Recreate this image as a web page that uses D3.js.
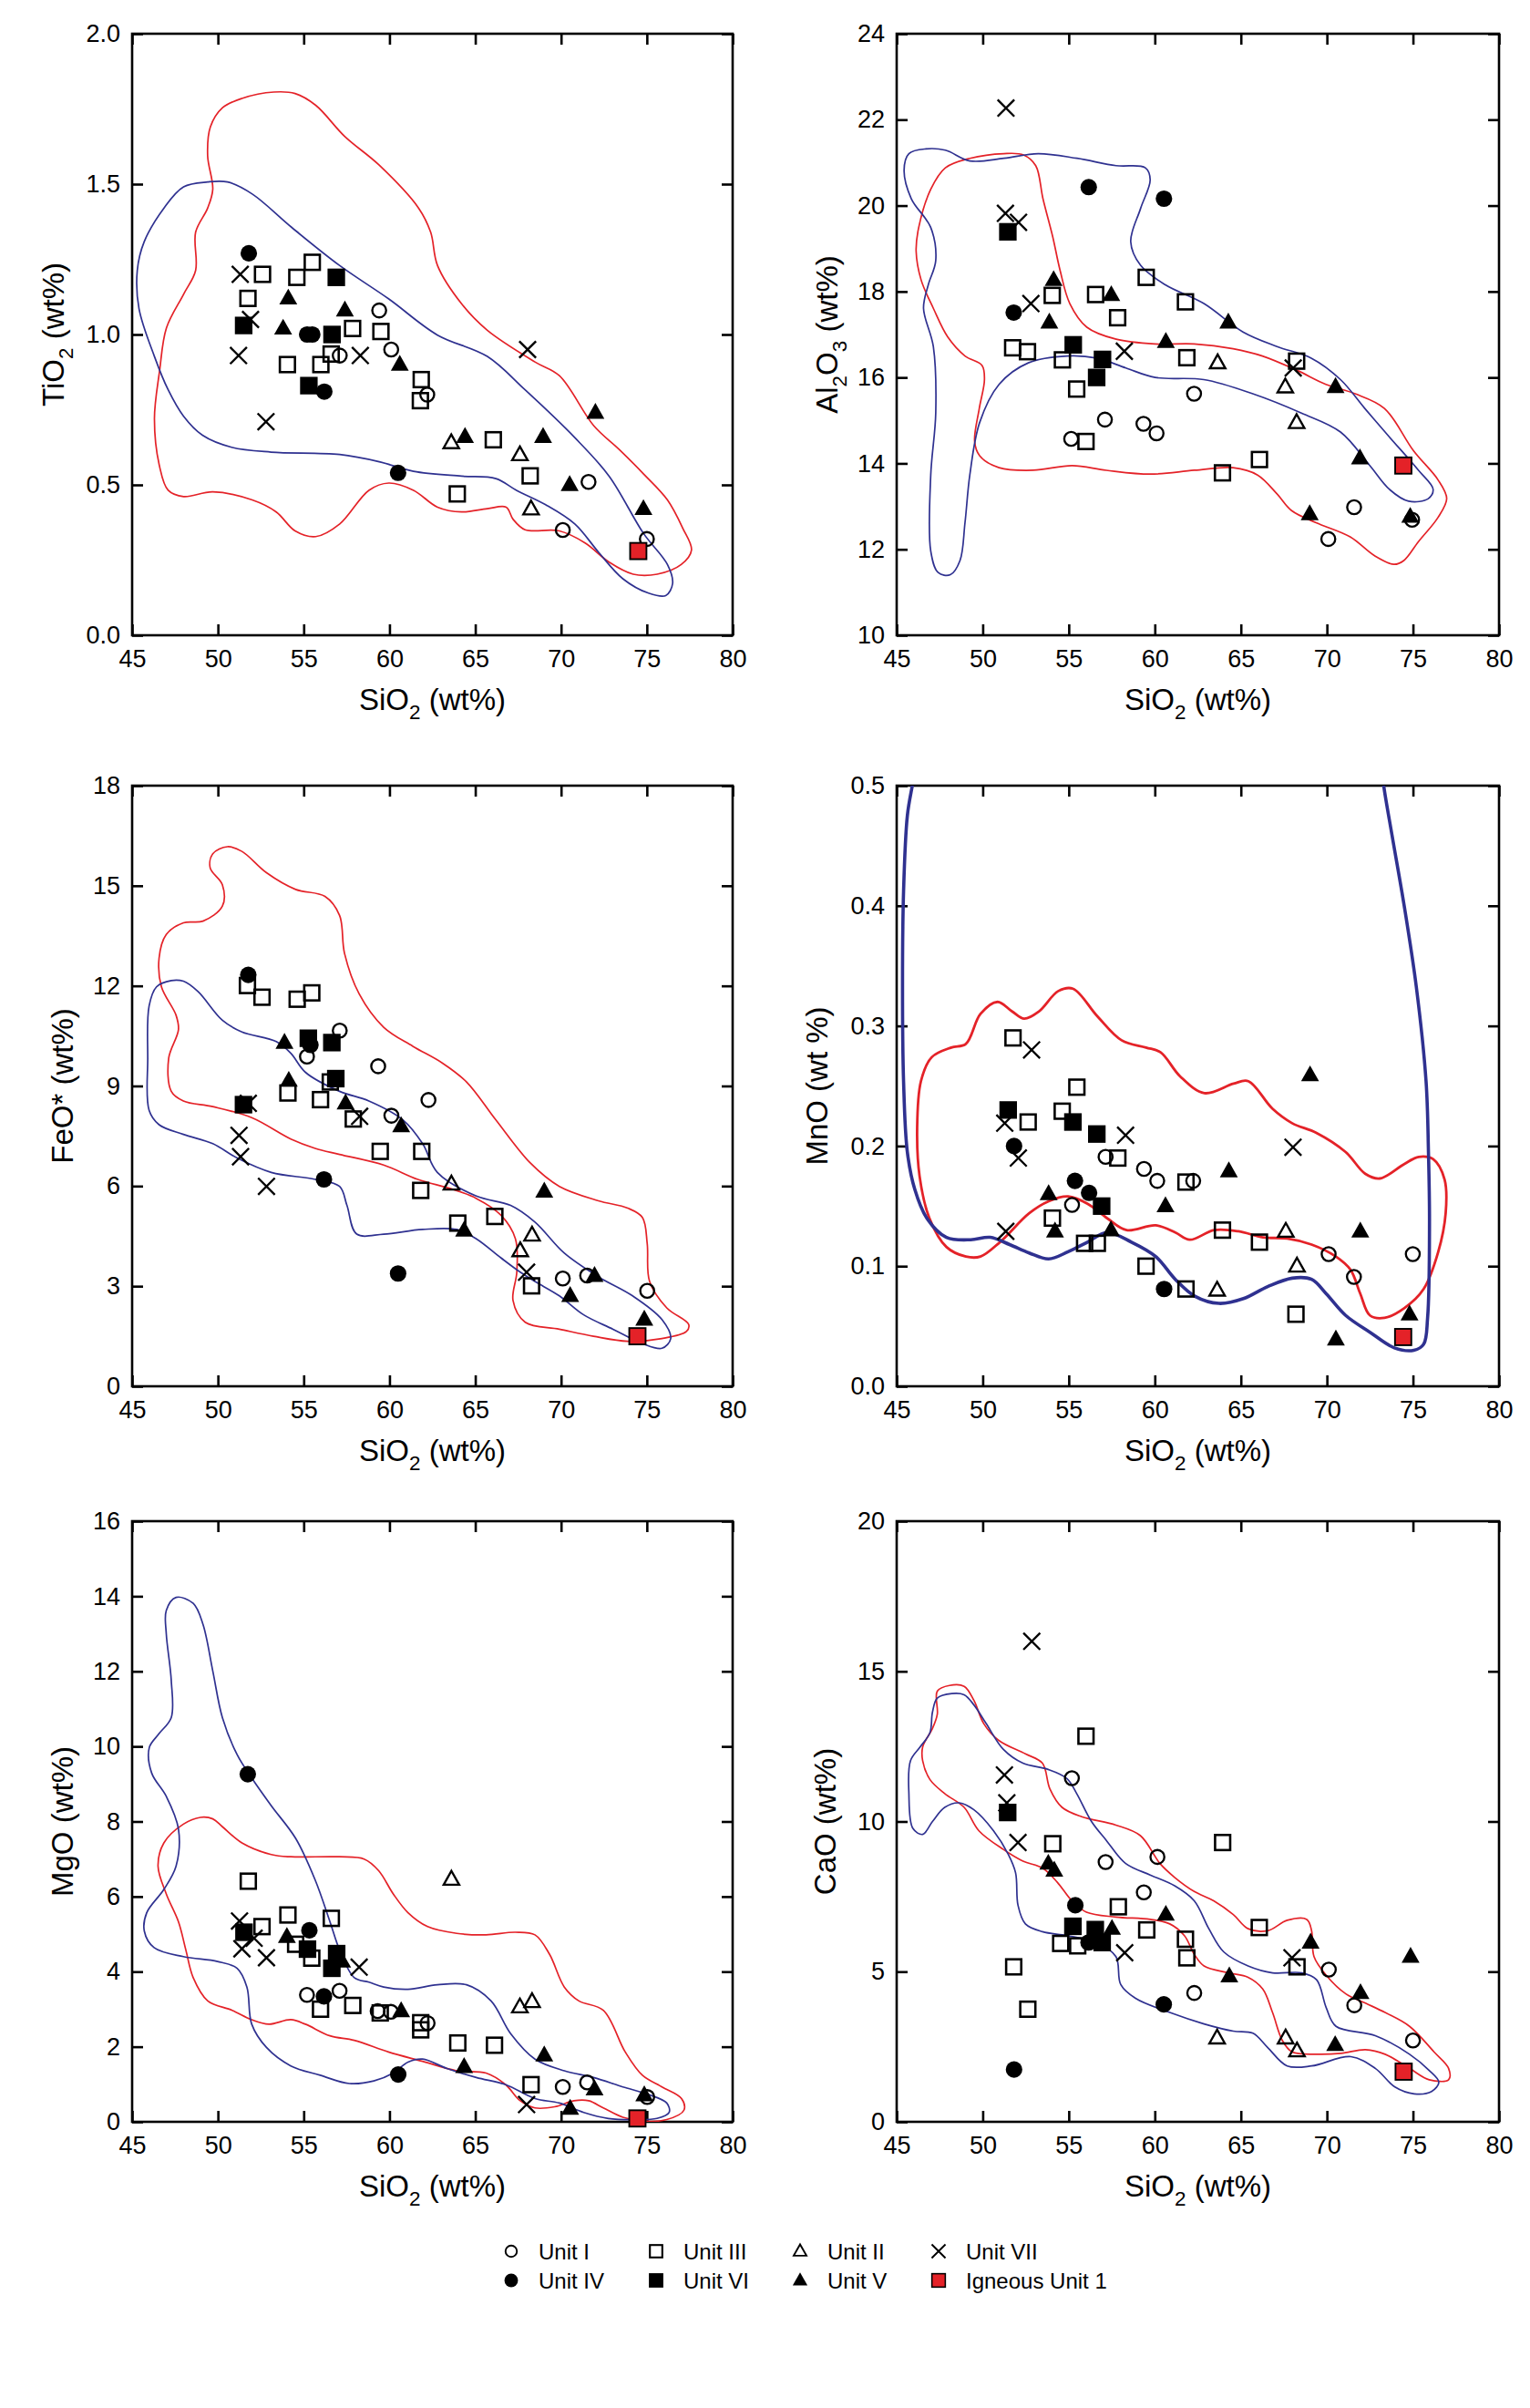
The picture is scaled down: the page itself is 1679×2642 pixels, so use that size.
<!DOCTYPE html>
<html>
<head>
<meta charset="utf-8">
<script src="https://cdn.jsdelivr.net/npm/d3@7"></script>
<style>
  body { margin: 0; background: #fff; }
  text { font-family: "Liberation Sans", Arial, Helvetica, sans-serif; }
</style>
</head>
<body>
<svg id="chart" width="1679" height="2642"></svg>
<script>
// ---- shared axis values ----
var xTicks = [45, 50, 55, 60, 65, 70, 75, 80];
var unitCodes = ["I", "IV", "III", "VI", "II", "V", "VII", "IG"];
var unitLabels = ["Unit I", "Unit IV", "Unit III", "Unit VI", "Unit II", "Unit V", "Unit VII", "Igneous Unit 1"];

// ---- TiO2 ----
var tio2Ticks = [0, 0.5, 1.0, 1.5, 2.0];
var tio2Points = [
  ["I",59.4,1.08],["I",60.1,0.95],["I",57.1,0.93],["I",62.2,0.80],["I",71.6,0.51],["I",70.1,0.35],["I",75.0,0.32],
  ["IV",51.8,1.27],["IV",55.2,1.0],["IV",55.5,1.0],["IV",56.2,0.81],["IV",60.5,0.54],
  ["III",52.6,1.2],["III",51.75,1.12],["III",54.6,1.19],["III",55.5,1.24],["III",57.85,1.02],["III",59.5,1.01],["III",54.05,0.9],
  ["III",56.0,0.9],["III",56.6,0.935],["III",61.85,0.85],["III",61.8,0.78],["III",66.05,0.65],["III",68.2,0.53],["III",63.95,0.47],
  ["VI",56.9,1.19],["VI",51.5,1.03],["VI",56.65,1.0],["VI",55.3,0.83],
  ["II",63.6,0.64],["II",67.6,0.6],["II",68.25,0.42],
  ["V",54.1,1.12],["V",53.8,1.02],["V",57.4,1.08],["V",60.6,0.9],["V",64.4,0.66],["V",68.95,0.66],["V",72.0,0.74],["V",70.5,0.5],["V",74.8,0.42],
  ["VII",51.3,1.2],["VII",51.9,1.05],["VII",51.2,0.93],["VII",52.8,0.71],["VII",58.3,0.93],["VII",68.05,0.95],
  ["IG",74.5,0.28]
];
var tio2Red = [[53.26,1.806],[51.4,1.785],[50.27,1.754],[49.56,1.69],[49.4,1.595],[49.7,1.483],[49.4,1.42],[48.7,1.34],[48.7,1.213],
  [48.0,1.134],[47.0,1.022],[46.6,0.879],[46.3,0.72],[46.6,0.561],[47.1,0.482],[48.0,0.461],[49.7,0.477],[52.0,0.45],[53.4,0.41],
  [54.5,0.347],[55.7,0.328],[57.1,0.37],[58.8,0.482],[59.96,0.506],[61.4,0.482],[62.8,0.426],[64.2,0.41],[65.7,0.421],[66.8,0.426],
  [67.2,0.386],[67.9,0.351],[69.9,0.347],[71.4,0.307],[72.8,0.243],[74.2,0.203],[75.6,0.203],[77.0,0.235],[77.6,0.283],[77.1,0.355],
  [76.2,0.45],[74.8,0.537],[73.4,0.617],[71.9,0.697],[69.9,0.863],[68.5,0.908],[65.7,1.014],[64.2,1.102],[62.8,1.229],[62.4,1.34],
  [61.7,1.42],[59.4,1.563],[57.4,1.658],[55.7,1.762],[54.5,1.801]];
var tio2Blue = [[49.4,1.507],[48.0,1.491],[46.85,1.42],[45.7,1.308],[45.3,1.213],[45.4,1.086],[46.3,0.927],[47.1,0.816],[48.0,0.728],
  [49.1,0.665],[50.8,0.625],[53.1,0.609],[57.1,0.601],[59.4,0.577],[61.4,0.545],[64.2,0.529],[66.2,0.521],[67.4,0.482],[69.1,0.434],
  [70.8,0.37],[72.2,0.275],[73.6,0.188],[75.1,0.14],[76.1,0.132],[76.5,0.172],[76.2,0.235],[74.8,0.339],[72.8,0.529],[70.8,0.657],
  [67.9,0.816],[65.7,0.927],[62.8,0.998],[59.96,1.118],[57.1,1.229],[54.3,1.356],[52.0,1.467],[50.56,1.507]];

// ---- Al2O3 ----
var al2o3Ticks = [10, 12, 14, 16, 18, 20, 22, 24];
var al2o3Points = [
  ["I",55.14,14.57],["I",57.1,15.02],["I",59.34,14.92],["I",60.1,14.7],["I",62.28,15.62],["I",71.58,12.98],["I",70.08,12.24],["I",74.95,12.69],
  ["IV",56.16,20.43],["IV",60.53,20.16],["IV",51.8,17.51],
  ["III",51.74,16.69],["III",52.6,16.6],["III",54.04,17.91],["III",54.63,16.41],["III",55.46,15.73],["III",56.0,14.51],["III",56.56,17.93],
  ["III",57.84,17.39],["III",59.5,18.33],["III",61.78,17.76],["III",61.86,16.46],["III",63.93,13.78],["III",66.08,14.09],["III",68.24,16.38],
  ["VI",51.46,19.39],["VI",55.26,16.76],["VI",56.96,16.42],["VI",56.62,16.0],
  ["II",63.65,16.34],["II",67.58,15.78],["II",68.24,14.95],
  ["V",54.12,18.27],["V",53.87,17.28],["V",57.47,17.92],["V",60.64,16.83],["V",64.27,17.28],["V",70.5,15.78],["V",71.92,14.12],["V",69.0,12.82],["V",74.84,12.76],
  ["VII",51.35,22.27],["VII",51.32,19.82],["VII",52.08,19.61],["VII",52.8,17.72],["VII",58.23,16.61],["VII",68.04,16.22],
  ["IG",74.44,13.95]
];
var al2o3Red = [[51.23,21.21],[49.25,21.1],[47.83,20.88],[46.98,20.38],[46.28,19.49],[46.13,18.94],[46.42,18.27],[47.13,17.61],[47.97,16.94],
  [48.97,16.5],[49.96,16.28],[50.1,15.95],[49.8,15.28],[49.53,14.51],[49.82,14.18],[50.95,13.9],[52.93,13.84],[55.2,13.95],[57.18,13.84],
  [59.73,13.75],[62.29,13.84],[64.55,13.9],[65.97,13.73],[67.1,13.29],[67.95,12.9],[69.37,12.62],[71.35,12.29],[72.77,11.85],[73.9,11.65],
  [74.47,11.74],[75.32,12.18],[76.45,12.74],[76.96,13.18],[76.45,13.62],[75.04,14.29],[73.34,15.28],[71.64,15.62],[69.94,15.84],[68.24,16.17],
  [66.25,16.5],[64.55,16.67],[62.28,16.78],[60.02,16.78],[57.75,16.89],[56.05,17.17],[55.06,17.72],[54.49,18.5],[54.07,19.27],[53.5,20.16],
  [53.08,20.93],[52.37,21.18]];
var al2o3Blue = [[46.7,21.32],[45.71,21.21],[45.43,20.82],[45.85,20.16],[46.98,19.49],[47.27,18.72],[46.84,18.16],[46.56,17.61],[47.13,16.72],
  [47.27,15.17],[46.98,13.73],[46.98,11.96],[47.41,11.46],[48.12,11.41],[48.68,11.74],[48.97,12.62],[49.25,13.73],[49.82,14.95],[50.95,15.84],
  [52.65,16.34],[54.92,16.5],[56.62,16.45],[58.32,16.22],[60.02,16.0],[62.85,15.95],[65.69,15.62],[68.52,15.17],[70.79,14.73],[72.49,13.95],
  [73.62,13.4],[74.75,13.12],[75.89,13.18],[76.17,13.4],[75.32,13.84],[73.62,14.62],[72.2,15.28],[70.79,15.95],[69.09,16.45],[67.1,16.72],
  [65.12,17.06],[62.85,17.72],[60.59,18.16],[59.17,18.61],[58.6,19.16],[59.17,19.93],[59.73,20.6],[59.45,20.88],[57.75,20.93],[55.48,21.1],
  [53.22,21.21],[51.23,21.1],[49.25,21.04],[47.83,21.29]];

// ---- FeO* ----
var feoTicks = [0, 3, 6, 9, 12, 15, 18];
var feoPoints = [
  ["I",55.19,9.88],["I",57.1,10.66],["I",59.34,9.59],["I",60.11,8.11],["I",62.27,8.58],["I",70.1,3.23],["I",71.52,3.32],["I",75.02,2.86],
  ["IV",51.77,12.33],["IV",55.39,10.23],["IV",56.18,6.2],["IV",60.5,3.38],
  ["III",51.72,12.01],["III",52.57,11.66],["III",54.62,11.6],["III",55.47,11.79],["III",54.08,8.79],["III",55.98,8.59],["III",56.55,9.12],
  ["III",57.89,8.01],["III",59.46,7.04],["III",61.88,7.04],["III",61.82,5.87],["III",63.98,4.89],["III",66.14,5.09],["III",68.28,3.01],
  ["VI",51.49,8.44],["VI",55.27,10.43],["VI",56.64,10.3],["VI",56.87,9.22],
  ["II",63.61,6.06],["II",67.62,4.06],["II",68.31,4.53],
  ["V",53.88,10.3],["V",54.13,9.16],["V",57.44,8.48],["V",60.68,7.8],["V",64.35,4.67],["V",69.02,5.84],["V",71.95,3.31],["V",70.53,2.71],["V",74.85,2.0],
  ["VII",51.77,8.48],["VII",51.23,7.52],["VII",51.32,6.88],["VII",52.83,5.99],["VII",58.26,8.09],["VII",67.99,3.42],
  ["IG",74.45,1.5]
];
var feoRed = [[50.55,16.17],[49.7,15.96],[49.55,15.53],[50.26,15.03],[50.26,14.39],[49.13,13.94],[47.99,13.89],[46.99,13.54],[46.57,12.83],
  [46.71,11.97],[47.56,11.12],[47.7,10.69],[47.13,9.83],[47.28,8.84],[47.99,8.55],[49.7,8.38],[51.97,8.05],[54.25,7.41],[55.67,7.13],
  [57.09,6.95],[59.66,6.63],[61.65,6.2],[63.64,5.91],[65.06,5.63],[66.49,5.13],[67.34,4.42],[67.42,3.42],[67.2,2.57],[67.91,1.92],
  [69.9,1.71],[71.89,1.5],[73.88,1.35],[75.88,1.43],[77.3,1.64],[77.44,1.85],[76.16,2.35],[75.16,3.14],[75.02,4.28],[74.74,5.06],
  [73.88,5.34],[72.18,5.56],[69.9,5.99],[68.19,6.7],[66.2,7.98],[64.49,9.12],[63.07,9.69],[61.36,10.19],[59.66,10.76],[58.23,11.76],
  [57.38,12.97],[57.09,14.11],[56.24,14.68],[54.53,14.89],[52.83,15.39],[51.4,16.03]];
var feoBlue = [[47.28,12.16],[46.42,11.97],[45.99,11.4],[45.91,9.83],[45.99,8.27],[46.57,7.84],[47.99,7.55],[49.7,7.27],[51.12,6.84],
  [53.11,6.41],[55.67,6.2],[57.09,5.99],[57.52,5.42],[58.09,4.56],[59.66,4.56],[61.93,4.7],[63.92,4.7],[65.06,4.42],[66.49,3.85],
  [67.62,3.42],[68.48,3.14],[69.9,2.71],[71.32,2.14],[73.03,1.71],[74.74,1.28],[75.88,1.14],[76.39,1.43],[75.88,2.0],[74.17,2.71],
  [72.18,3.28],[70.19,3.99],[68.48,4.92],[67.06,5.42],[65.06,5.7],[62.79,6.41],[61.93,7.27],[60.79,7.98],[58.8,8.55],[57.09,8.84],
  [55.1,9.41],[54.25,9.98],[53.4,10.33],[51.4,10.62],[50.26,10.97],[48.84,11.83],[47.99,12.14]];

// ---- MnO ----
var mnoTicks = [0, 0.1, 0.2, 0.3, 0.4, 0.5];
var mnoPoints = [
  ["I",55.19,0.151],["I",57.14,0.191],["I",59.37,0.181],["I",60.14,0.171],["I",62.23,0.171],["I",70.1,0.11],["I",71.57,0.091],["I",74.99,0.11],
  ["IV",51.82,0.2],["IV",55.36,0.171],["IV",56.18,0.161],["IV",60.54,0.081],
  ["III",51.76,0.29],["III",52.64,0.22],["III",55.47,0.249],["III",54.62,0.229],["III",54.05,0.14],["III",55.92,0.119],["III",56.66,0.119],
  ["III",57.85,0.19],["III",59.49,0.1],["III",61.81,0.17],["III",61.81,0.081],["III",63.93,0.13],["III",66.08,0.12],["III",68.2,0.06],
  ["VI",51.48,0.23],["VI",55.24,0.22],["VI",56.63,0.21],["VI",56.91,0.15],
  ["II",63.62,0.08],["II",67.61,0.129],["II",68.26,0.1],
  ["V",53.83,0.16],["V",54.2,0.129],["V",57.45,0.13],["V",60.62,0.15],["V",64.3,0.179],["V",69.02,0.259],["V",71.94,0.129],["V",70.52,0.039],["V",74.8,0.06],
  ["VII",52.84,0.28],["VII",51.28,0.219],["VII",52.07,0.19],["VII",51.34,0.129],["VII",58.3,0.209],["VII",68.03,0.199],
  ["IG",74.43,0.041]
];
var mnoRed = [[50.86,0.32],[49.87,0.31],[49.02,0.285],[48.17,0.282],[47.04,0.274],[46.41,0.254],[46.19,0.215],[46.33,0.175],[46.9,0.14],
  [47.89,0.116],[49.02,0.108],[49.87,0.108],[51.0,0.12],[52.7,0.144],[53.83,0.154],[54.96,0.158],[56.09,0.152],[57.22,0.14],[58.36,0.13],
  [60.05,0.134],[61.19,0.128],[62.03,0.122],[63.45,0.13],[64.86,0.129],[66.28,0.124],[67.69,0.123],[69.11,0.118],[70.52,0.108],[71.37,0.097],
  [71.94,0.077],[72.5,0.059],[73.35,0.057],[74.49,0.065],[75.62,0.081],[76.47,0.112],[76.9,0.144],[76.84,0.172],[76.18,0.189],[75.33,0.191],
  [74.49,0.185],[73.07,0.173],[72.22,0.177],[71.09,0.195],[69.39,0.211],[67.98,0.219],[66.84,0.231],[65.43,0.254],[64.58,0.252],[62.88,0.244],
  [61.47,0.258],[60.34,0.278],[59.49,0.282],[58.07,0.288],[56.66,0.308],[55.24,0.331],[54.39,0.329],[53.26,0.312],[52.41,0.306],[51.71,0.312]];
var mnoBlue = [[46.5,0.56],[46.19,0.52],[45.91,0.5],[45.62,0.475],[45.4,0.412],[45.34,0.333],[45.4,0.254],[45.62,0.195],[46.05,0.164],
  [46.75,0.14],[47.89,0.124],[49.3,0.122],[50.43,0.124],[51.56,0.118],[52.7,0.111],[53.83,0.106],[54.96,0.112],[56.09,0.12],[57.22,0.128],
  [58.64,0.12],[60.05,0.108],[61.19,0.089],[62.32,0.075],[63.73,0.069],[65.15,0.073],[66.56,0.083],[67.98,0.09],[69.11,0.089],[69.96,0.077],
  [71.09,0.059],[72.5,0.045],[73.92,0.032],[75.05,0.03],[75.62,0.035],[75.85,0.057],[75.96,0.136],[75.9,0.195],[75.76,0.254],[75.19,0.333],
  [74.49,0.4],[73.78,0.459],[73.3,0.5],[73.15,0.52],[73.0,0.56],[60.0,0.6]];

// ---- MgO ----
var mgoTicks = [0, 2, 4, 6, 8, 10, 12, 14, 16];
var mgoPoints = [
  ["I",55.19,3.38],["I",57.09,3.49],["I",59.31,2.95],["I",60.08,2.93],["I",62.22,2.63],["I",70.1,0.93],["I",71.52,1.05],["I",75.02,0.66],
  ["IV",51.74,9.26],["IV",55.33,5.1],["IV",56.18,3.34],["IV",60.51,1.26],
  ["III",51.77,6.41],["III",52.57,5.2],["III",54.08,5.51],["III",54.53,4.73],["III",55.47,4.36],["III",56.61,5.42],["III",55.98,3.0],
  ["III",57.86,3.1],["III",59.46,2.9],["III",61.82,2.64],["III",61.82,2.45],["III",63.98,2.1],["III",66.12,2.04],["III",68.25,0.99],
  ["VI",51.52,5.05],["VI",55.22,4.6],["VI",56.92,4.48],["VI",56.64,4.09],
  ["II",63.61,6.46],["II",67.6,3.06],["II",68.31,3.2],
  ["V",54.02,4.93],["V",57.24,4.27],["V",60.68,2.95],["V",64.35,1.46],["V",69.02,1.77],["V",71.95,0.87],["V",70.53,0.35],["V",74.85,0.71],
  ["VII",51.26,5.35],["VII",51.4,4.61],["VII",52.11,4.89],["VII",52.83,4.37],["VII",58.23,4.12],["VII",67.99,0.46],
  ["IG",74.45,0.09]
];
var mgoRed = [[48.98,8.11],[47.99,7.93],[46.85,7.43],[46.51,6.81],[46.99,6.07],[47.7,5.33],[48.13,4.58],[48.56,3.84],[49.41,3.22],
  [50.83,2.97],[51.97,2.72],[52.97,2.6],[54.25,2.72],[55.1,2.6],[56.53,2.29],[57.95,2.17],[59.94,1.86],[61.93,1.61],[63.92,1.36],
  [65.63,1.3],[66.77,0.99],[67.62,0.56],[68.48,0.37],[69.62,0.4],[70.75,0.56],[71.61,0.56],[72.46,0.37],[73.6,0.12],[74.74,0.02],
  [76.16,0.06],[77.16,0.31],[77.02,0.62],[75.88,0.93],[74.74,1.24],[73.74,1.86],[72.46,2.97],[71.04,3.22],[70.19,3.59],[69.33,4.46],
  [68.48,4.98],[67.34,5.05],[65.63,4.98],[63.92,5.02],[62.22,5.2],[61.08,5.57],[60.22,6.07],[59.37,6.69],[58.52,7.0],[57.09,7.06],
  [54.25,7.06],[53.11,7.12],[51.4,7.43],[50.26,7.86],[49.7,8.07]];
var mgoBlue = [[47.56,13.97],[46.99,13.62],[46.99,13.0],[47.28,11.76],[47.28,10.77],[46.57,10.34],[46.0,9.97],[46.14,9.29],[46.99,8.67],
  [47.7,7.8],[47.56,6.81],[46.85,6.19],[45.85,5.57],[45.71,5.08],[46.28,4.64],[47.99,4.4],[49.98,4.27],[51.12,4.09],[51.69,3.59],
  [51.97,2.6],[52.83,1.98],[54.25,1.49],[55.96,1.24],[57.66,1.02],[59.09,1.09],[60.22,1.3],[61.08,1.59],[61.93,1.67],[63.35,1.42],
  [65.06,1.18],[66.77,0.99],[68.48,0.62],[69.9,0.5],[71.32,0.25],[72.75,0.09],[74.17,0.06],[75.59,0.09],[76.3,0.25],[76.16,0.5],
  [75.02,0.74],[73.6,0.93],[71.89,1.18],[70.19,1.36],[68.48,1.67],[67.06,2.35],[65.92,3.22],[64.49,3.65],[62.79,3.65],[61.08,3.53],
  [59.66,3.59],[58.8,3.72],[57.95,3.84],[57.09,4.58],[56.53,5.33],[55.67,6.44],[54.53,7.55],[53.11,8.42],[51.97,9.16],[51.12,9.78],
  [50.26,10.77],[49.7,12.01],[49.13,13.25],[48.56,13.81]];

// ---- CaO ----
var caoTicks = [0, 5, 10, 15, 20];
var caoPoints = [
  ["I",55.18,11.44],["I",57.14,8.65],["I",60.15,8.82],["I",59.36,7.64],["I",62.29,4.29],["I",70.11,5.07],["I",71.59,3.88],["I",75.0,2.71],
  ["IV",55.38,7.21],["IV",56.15,5.97],["IV",60.52,3.91],["IV",51.82,1.74],
  ["III",56.0,12.84],["III",54.07,9.26],["III",51.8,5.16],["III",52.62,3.75],["III",54.53,5.94],["III",55.52,5.86],["III",57.88,7.16],
  ["III",59.53,6.39],["III",61.78,6.08],["III",61.86,5.46],["III",63.94,9.3],["III",66.07,6.47],["III",68.26,5.16],
  ["VI",51.45,10.3],["VI",55.24,6.51],["VI",56.54,6.4],["VI",56.94,5.97],
  ["II",63.62,2.79],["II",67.6,2.79],["II",68.26,2.36],
  ["V",53.81,8.6],["V",54.16,8.37],["V",57.51,6.43],["V",60.64,6.9],["V",64.33,4.85],["V",69.05,5.97],["V",71.95,4.29],["V",70.48,2.56],["V",74.86,5.5],
  ["VII",52.85,16.0],["VII",51.26,11.55],["VII",51.4,10.62],["VII",52.05,9.3],["VII",58.25,5.63],["VII",67.97,5.46],
  ["IG",74.46,1.67]
];
var caoRed = [[48.07,14.53],[47.36,14.34],[47.36,13.57],[47.08,13.1],[46.51,12.48],[46.51,12.02],[46.93,11.4],[47.79,10.93],[48.92,10.47],
  [49.78,9.69],[51.2,9.07],[52.34,8.68],[53.47,8.45],[54.33,7.98],[55.18,7.36],[56.03,6.98],[57.74,6.82],[59.73,6.74],[60.87,6.59],
  [61.72,6.2],[62.29,5.58],[62.86,5.19],[64.28,4.96],[65.42,4.81],[66.27,4.42],[66.84,3.64],[67.41,2.71],[67.97,2.33],[69.4,2.25],
  [70.82,2.28],[72.24,2.4],[73.38,2.25],[74.8,1.78],[75.94,1.4],[77.07,1.4],[77.07,1.78],[76.22,2.33],[74.8,3.18],[73.38,3.64],
  [72.24,3.95],[71.1,4.26],[69.96,4.88],[69.25,5.5],[69.11,6.36],[68.83,6.74],[67.69,6.71],[66.55,6.36],[65.42,6.43],[64.56,6.9],
  [63.42,7.36],[62.29,7.67],[61.15,8.14],[60.3,8.6],[59.16,9.53],[57.74,9.88],[55.75,10.16],[54.61,10.47],[53.9,11.09],[53.47,11.94],
  [52.48,12.25],[50.91,12.71],[50.06,13.26],[49.49,14.03],[48.92,14.5]];
var caoBlue = [[48.21,14.26],[47.36,14.11],[47.08,13.64],[46.93,12.95],[46.36,12.48],[45.8,12.02],[45.71,10.93],[45.94,9.77],[46.51,9.57],
  [47.08,10.0],[47.79,10.47],[48.64,10.62],[49.49,10.39],[50.63,9.69],[51.48,8.91],[51.91,8.29],[52.05,7.21],[52.48,6.59],[53.47,6.33],
  [54.89,6.2],[56.6,5.97],[57.74,5.5],[58.02,4.57],[58.88,4.11],[60.87,3.64],[62.86,3.26],[64.56,3.02],[65.7,2.95],[66.55,2.48],
  [67.69,1.86],[69.11,1.86],[71.39,2.17],[72.81,1.78],[73.95,1.16],[75.08,0.93],[76.08,1.01],[76.5,1.32],[75.94,1.71],[74.8,2.25],
  [72.81,2.87],[70.53,3.18],[69.96,3.8],[69.4,4.73],[68.54,4.96],[66.84,4.96],[65.42,5.19],[64.0,5.66],[63.14,6.43],[62.29,7.36],
  [61.15,7.86],[59.73,8.22],[58.31,8.6],[57.17,9.38],[56.32,10.0],[55.46,10.93],[54.89,11.43],[53.76,11.74],[52.34,11.94],[51.2,12.4],
  [50.2,13.26],[49.49,13.88],[48.92,14.22]];

// ---- axis titles: [text, isSubscript] ----
var xTitle = [["SiO", 0], ["2", 1], [" (wt%)", 0]];
var tio2Title = [["TiO", 0], ["2", 1], [" (wt%)", 0]];
var al2o3Title = [["Al", 0], ["2", 1], ["O", 0], ["3", 1], [" (wt%)", 0]];
var feoTitle = [["FeO* (wt%)", 0]];
var mnoTitle = [["MnO (wt %)", 0]];
var mgoTitle = [["MgO (wt%)", 0]];
var caoTitle = [["CaO (wt%)", 0]];

// ---- layout ----
var RED = "#e42228";
var BLUE = "#2f3190";
var colX = [[145, 804], [984, 1645]];
var rowY = [[37, 697], [862, 1521], [1669, 2328]];
var markerScale = 1.12;

var panels = [
  { pts: tio2Points, red: tio2Red, blue: tio2Blue, dom: [0, 2], ticks: tio2Ticks, fmt: d3.format(".1f"), title: tio2Title, col: 0, row: 0, lw: [1.7, 1.7], tOff: 75 },
  { pts: al2o3Points, red: al2o3Red, blue: al2o3Blue, dom: [10, 24], ticks: al2o3Ticks, fmt: d3.format("d"), title: al2o3Title, col: 1, row: 0, lw: [1.7, 1.7], tOff: 65 },
  { pts: feoPoints, red: feoRed, blue: feoBlue, dom: [0, 18], ticks: feoTicks, fmt: d3.format("d"), title: feoTitle, col: 0, row: 1, lw: [1.7, 1.7], tOff: 65 },
  { pts: mnoPoints, red: mnoRed, blue: mnoBlue, dom: [0, 0.5], ticks: mnoTicks, fmt: d3.format(".1f"), title: mnoTitle, col: 1, row: 1, lw: [2.8, 3.6], tOff: 76 },
  { pts: mgoPoints, red: mgoRed, blue: mgoBlue, dom: [0, 16], ticks: mgoTicks, fmt: d3.format("d"), title: mgoTitle, col: 0, row: 2, lw: [1.7, 1.7], tOff: 65 },
  { pts: caoPoints, red: caoRed, blue: caoBlue, dom: [0, 20], ticks: caoTicks, fmt: d3.format("d"), title: caoTitle, col: 1, row: 2, lw: [1.7, 1.7], tOff: 67 }
];

var svg = d3.select("#chart");
svg.append("rect").attr("width", 1679).attr("height", 2642).attr("fill", "#fff");

// writes parts into a text element, lowering subscripts
function richText(sel, parts, size) {
  var shift = size * 0.3;
  parts.forEach(function(p, i) {
    var ts = sel.append("tspan").text(p[0]);
    if (p[1]) {
      ts.attr("font-size", size * 0.68).attr("dy", shift);
    } else if (i > 0 && parts[i - 1][1]) {
      ts.attr("dy", -shift);
    }
  });
}

function drawMarker(g, unit, cx, cy, k) {
  var m = g.append("g").attr("transform", "translate(" + cx + "," + cy + ") scale(" + (k || 1) + ")");
  if (unit === "I") {
    m.append("circle").attr("r", 6.8).attr("fill", "none").attr("stroke", "#000").attr("stroke-width", 2.1);
  } else if (unit === "IV") {
    m.append("circle").attr("r", 8.1).attr("fill", "#000");
  } else if (unit === "III") {
    m.append("rect").attr("x", -7.4).attr("y", -7.4).attr("width", 14.8).attr("height", 14.8)
      .attr("fill", "none").attr("stroke", "#000").attr("stroke-width", 2.3);
  } else if (unit === "VI") {
    m.append("rect").attr("x", -8.6).attr("y", -8.6).attr("width", 17.2).attr("height", 17.2).attr("fill", "#000");
  } else if (unit === "II") {
    m.append("path").attr("d", "M0,-8.2L7.6,5.3L-7.6,5.3Z")
      .attr("fill", "none").attr("stroke", "#000").attr("stroke-width", 2.1);
  } else if (unit === "V") {
    m.append("path").attr("d", "M0,-9.6L8.8,6L-8.8,6Z").attr("fill", "#000");
  } else if (unit === "VII") {
    m.append("path").attr("d", "M-8.2,-8.2L8.2,8.2M-8.2,8.2L8.2,-8.2")
      .attr("stroke", "#000").attr("stroke-width", 2.1).attr("fill", "none");
  } else if (unit === "IG") {
    m.append("rect").attr("x", -8).attr("y", -8).attr("width", 16).attr("height", 16)
      .attr("fill", RED).attr("stroke", "#000").attr("stroke-width", 1.7);
  }
}

panels.forEach(function(p, i) {
  var x0 = colX[p.col][0], x1 = colX[p.col][1];
  var y0 = rowY[p.row][0], y1 = rowY[p.row][1];
  var x = d3.scaleLinear().domain([45, 80]).range([x0, x1]);
  var y = d3.scaleLinear().domain(p.dom).range([y1, y0]);
  var g = svg.append("g").attr("class", "panel");

  svg.append("clipPath").attr("id", "clip" + i)
    .append("rect").attr("x", x0).attr("y", y0).attr("width", x1 - x0).attr("height", y1 - y0);

  // inward ticks on all four sides
  var axes = [
    [d3.axisBottom(x).tickValues(xTicks).tickSize(-12).tickPadding(16).tickFormat(d3.format("d")), "translate(0," + y1 + ")"],
    [d3.axisTop(x).tickValues(xTicks).tickSize(-12).tickFormat(""), "translate(0," + y0 + ")"],
    [d3.axisLeft(y).tickValues(p.ticks).tickSize(-12).tickPadding(13).tickFormat(p.fmt), "translate(" + x0 + ",0)"],
    [d3.axisRight(y).tickValues(p.ticks).tickSize(-12).tickFormat(""), "translate(" + x1 + ",0)"]
  ];
  axes.forEach(function(a) {
    var ax = g.append("g").attr("transform", a[1]).call(a[0]);
    ax.select(".domain").remove();
    ax.selectAll("line").attr("stroke", "#000").attr("stroke-width", 2.6);
    ax.selectAll("text").attr("font-size", 27).attr("fill", "#000")
      .attr("font-family", "'Liberation Sans', Arial, sans-serif");
  });

  g.append("rect").attr("x", x0).attr("y", y0).attr("width", x1 - x0).attr("height", y1 - y0)
    .attr("fill", "none").attr("stroke", "#000").attr("stroke-width", 2.6);

  // contours
  var line = d3.line().x(function(d) { return x(d[0]); }).y(function(d) { return y(d[1]); })
    .curve(d3.curveCatmullRomClosed.alpha(0.5));
  var cg = g.append("g").attr("clip-path", "url(#clip" + i + ")");
  cg.append("path").attr("d", line(p.red)).attr("fill", "none").attr("stroke", RED).attr("stroke-width", p.lw[0]);
  cg.append("path").attr("d", line(p.blue)).attr("fill", "none").attr("stroke", BLUE).attr("stroke-width", p.lw[1]);

  // data points
  var mg = g.append("g");
  p.pts.forEach(function(d) { drawMarker(mg, d[0], x(d[1]), y(d[2]), markerScale); });

  // axis titles
  var xt = g.append("text").attr("x", (x0 + x1) / 2).attr("y", y1 + 82)
    .attr("text-anchor", "middle").attr("font-size", 33).attr("fill", "#000");
  richText(xt, xTitle, 33);
  var yt = g.append("text").attr("transform", "translate(" + (x0 - p.tOff) + "," + ((y0 + y1) / 2) + ") rotate(-90)")
    .attr("text-anchor", "middle").attr("font-size", 33).attr("fill", "#000");
  richText(yt, p.title, 33);
});

// legend
var legendCols = [561, 720, 878, 1030];
var legendRows = [2470, 2502];
var lg = svg.append("g").attr("class", "legend");
unitCodes.forEach(function(u, i) {
  var cx = legendCols[Math.floor(i / 2)];
  var cy = legendRows[i % 2];
  drawMarker(lg, u, cx, cy, 0.92);
  lg.append("text").attr("x", cx + 30).attr("y", cy).attr("dy", "0.36em")
    .attr("font-size", 24).attr("fill", "#000").text(unitLabels[i]);
});
</script>
</body>
</html>
